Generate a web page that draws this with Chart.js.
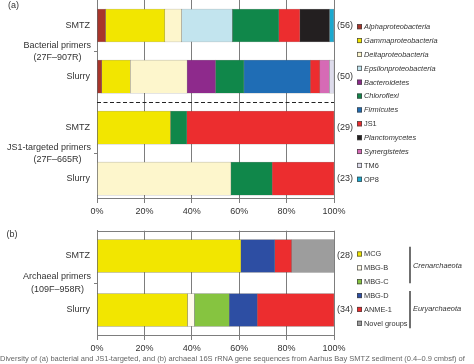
<!DOCTYPE html>
<html><head><meta charset="utf-8">
<script src="https://cdn.jsdelivr.net/npm/chart.js@4/dist/chart.umd.min.js"></script>
<style>
html,body{margin:0;padding:0;background:#fff;width:474px;height:364px;overflow:hidden;position:relative;font-family:'Liberation Sans',Arial,sans-serif}
canvas{position:absolute;left:0}
#ca{top:0}
#cb{top:220px}
#cap{position:absolute;left:0;top:354px;font-size:7.5px;line-height:9px;color:#666;white-space:nowrap}
</style></head><body>
<canvas id="ca" width="474" height="225"></canvas>
<canvas id="cb" width="474" height="142"></canvas>
<div id="cap">Diversity of (a) bacterial and JS1-targeted, and (b) archaeal 16S rRNA gene sequences from Aarhus Bay SMTZ sediment (0.4–0.9 cmbsf) of</div>
<script>
// ---------- Panel (a) data ----------
const rowLabelsA = ['SMTZ', 'Slurry', 'SMTZ', 'Slurry'];
const cloneCountsA = ['(56)', '(50)', '(29)', '(23)'];
const groupLabelsA = [['Bacterial primers', '(27F–907R)'], ['JS1-targeted primers', '(27F–665R)']];
const taxaA = ['Alphaproteobacteria', 'Gammaproteobacteria', 'Deltaproteobacteria', 'Epsilonproteobacteria',
  'Bacteroidetes', 'Chloroflexi', 'Firmicutes', 'JS1', 'Planctomycetes', 'Synergistetes', 'TM6', 'OP8'];
// percent of clones per row: [SMTZ bact, Slurry bact, SMTZ JS1, Slurry JS1]
const alphaproteobacteria   = [3.6, 2.0, 0, 0];
const gammaproteobacteria   = [25.0, 12.0, 31.0, 0];
const deltaproteobacteria   = [7.1, 24.0, 0, 56.5];
const epsilonproteobacteria = [21.4, 0, 0, 0];
const bacteroidetes         = [0, 12.0, 0, 0];
const chloroflexi           = [19.6, 12.0, 6.9, 17.4];
const firmicutes            = [0, 28.0, 0, 0];
const js1                   = [8.9, 4.0, 62.1, 26.1];
const planctomycetes        = [12.5, 0, 0, 0];
const synergistetes         = [0, 4.0, 0, 0];
const tm6                   = [0, 2.0, 0, 0];
const op8                   = [1.8, 0, 0, 0];

// ---------- Panel (b) data ----------
const rowLabelsB = ['SMTZ', 'Slurry'];
const cloneCountsB = ['(28)', '(34)'];
const groupLabelsB = [['Archaeal primers', '(109F–958R)']];
const taxaB = ['MCG', 'MBG-B', 'MBG-C', 'MBG-D', 'ANME-1', 'Novel groups'];
const mcg         = [60.7, 38.2];
const mbgB        = [0, 2.9];
const mbgC        = [0, 14.7];
const mbgD        = [14.3, 11.8];
const anme1       = [7.1, 32.4];
const novelGroups = [17.9, 0];

const xTicks = [0, 20, 40, 60, 80, 100];

// ---------- styles ----------
const seriesA = [alphaproteobacteria, gammaproteobacteria, deltaproteobacteria, epsilonproteobacteria,
  bacteroidetes, chloroflexi, firmicutes, js1, planctomycetes, synergistetes, tm6, op8];
const colorsA = ['#a8352b', '#f2e600', '#fdf6cc', '#c2e4ee', '#8e2a8c', '#10874a', '#1f6db5',
  '#ec2d2f', '#231f20', '#d66ab5', '#dedcec', '#1aa9cf'];
const italicA = [true, true, true, true, true, true, true, false, true, true, false, false];
const seriesB = [mcg, mbgB, mbgC, mbgD, anme1, novelGroups];
const colorsB = ['#f2e600', '#fffbea', '#86c440', '#2d4ea3', '#ec2d2f', '#9d9d9d'];

const FONT = '"Liberation Sans", Arial, sans-serif';
const GRID = '#7d7d7d';
const TXT = '#333';

function makeDatasets(taxa, series, colors) {
  return taxa.map((t, i) => ({
    label: t,
    data: series[i].map((v, r) => ({ x: v, y: r })),
    backgroundColor: colors[i],
    borderColor: 'rgba(60,60,60,0.55)',
    borderWidth: 0.5,
    borderSkipped: false,
    barThickness: 33
  }));
}

function drawLegend(ctx, labels, colors, italics, x, y0, step) {
  ctx.save();
  labels.forEach((lab, i) => {
    const y = y0 + i * step;
    ctx.fillStyle = colors[i];
    ctx.fillRect(x, y - 2.5, 5, 5);
    ctx.strokeStyle = '#444';
    ctx.lineWidth = 0.7;
    ctx.strokeRect(x + 0.35, y - 2.15, 4.3, 4.3);
    ctx.font = (italics[i] ? 'italic ' : '') + '7.4px ' + FONT;
    ctx.fillStyle = TXT;
    ctx.textAlign = 'left';
    ctx.textBaseline = 'middle';
    ctx.fillText(lab, x + 7, y + 0.3);
  });
  ctx.restore();
}

function decorPlugin(cfg) {
  return {
    id: 'decor',
    afterDatasetsDraw(chart) {
      const ctx = chart.ctx, a = chart.chartArea, ys = chart.scales.y;
      ctx.save();
      if (cfg.separators) {
        ctx.strokeStyle = '#222'; ctx.lineWidth = 1; ctx.setLineDash([4, 2.5]);
        cfg.separators.forEach(v => {
          const y = Math.round(ys.getPixelForValue(v)) + 0.5;
          ctx.beginPath(); ctx.moveTo(a.left, y); ctx.lineTo(a.right, y); ctx.stroke();
        });
        ctx.setLineDash([]);
      }
      if (cfg.topBorder) {
        ctx.strokeStyle = GRID; ctx.lineWidth = 1;
        const y = Math.round(a.top) + 0.5;
        ctx.beginPath(); ctx.moveTo(a.left, y); ctx.lineTo(a.right, y); ctx.stroke();
      }
      ctx.restore();
    },
    afterDraw(chart) {
      const ctx = chart.ctx, a = chart.chartArea, ys = chart.scales.y;
      ctx.save();
      ctx.fillStyle = TXT;
      ctx.font = '9px ' + FONT;
      ctx.textBaseline = 'middle';
      // clone counts
      ctx.textAlign = 'left';
      cfg.counts.forEach((c, r) => ctx.fillText(c, a.right + 3, ys.getPixelForValue(r)));
      // group labels with tick marks
      cfg.groups.forEach((g, gi) => {
        const v = cfg.groupPos[gi];
        const y = ys.getPixelForValue(v);
        ctx.strokeStyle = GRID; ctx.lineWidth = 1;
        ctx.beginPath(); ctx.moveTo(a.left - 3, Math.round(y) + 0.5); ctx.lineTo(a.left, Math.round(y) + 0.5); ctx.stroke();
        ctx.textAlign = 'right';
        ctx.fillText(g[0], 91, y - 6);
        ctx.textAlign = 'center';
        ctx.fillText(g[1], 57.5, y + 6.3);
      });
      // panel letter
      ctx.textAlign = 'left';
      ctx.fillText(cfg.panel[0], cfg.panel[1], cfg.panel[2]);
      ctx.restore();
      cfg.legend(ctx);
    }
  };
}

function makeChart(id, taxa, series, colors, rowLabels, yMin, yMax, topPad, plugin) {
  return new Chart(document.getElementById(id), {
    type: 'bar',
    data: { datasets: makeDatasets(taxa, series, colors) },
    options: {
      indexAxis: 'y',
      responsive: false,
      animation: false,
      events: [],
      layout: { padding: { left: 0, right: 140, top: topPad, bottom: 0 } },
      plugins: { legend: { display: false }, tooltip: { enabled: false } },
      scales: {
        x: {
          type: 'linear', stacked: true, min: 0, max: 100, offset: false,
          afterBuildTicks: s => { s.ticks = xTicks.map(v => ({ value: v })); },
          afterFit: s => { s.height = 27; },
          grid: { color: GRID, tickColor: GRID, lineWidth: 1, drawTicks: true, tickLength: 5, offset: false },
          border: { display: true, color: GRID, width: 1 },
          ticks: { color: TXT, font: { family: FONT, size: 9 }, padding: 3, maxRotation: 0,
                   callback: v => v + '%' }
        },
        y: {
          type: 'linear', stacked: true, reverse: true, min: yMin, max: yMax,
          offset: false, bounds: 'data', grace: 0,
          afterBuildTicks: s => { s.ticks = rowLabels.map((_, i) => ({ value: i })); },
          afterFit: s => { s.width = 97; s.paddingTop = 0; s.paddingBottom = 0; },
          grid: { display: false, drawTicks: false, offset: false },
          border: { display: true, color: GRID, width: 1 },
          ticks: { color: TXT, font: { family: FONT, size: 9 }, padding: 7,
                   callback: v => rowLabels[v] }
        }
      }
    },
    plugins: [plugin]
  });
}

makeChart('ca', taxaA, seriesA, colorsA, rowLabelsA, -0.5, 3.38, 0, decorPlugin({
  separators: [1.5],
  topBorder: false,
  counts: cloneCountsA,
  groups: groupLabelsA,
  groupPos: [0.5, 2.5],
  panel: ['(a)', 8, 6],
  legend: ctx => drawLegend(ctx, taxaA, colorsA, italicA, 357, 26.7, 13.87)
}));

makeChart('cb', taxaB, seriesB, colorsB, rowLabelsB, -0.468, 1.463, 10.7, decorPlugin({
  separators: null,
  topBorder: true,
  counts: cloneCountsB,
  groups: groupLabelsB,
  groupPos: [0.5],
  panel: ['(b)', 6.5, 15],
  legend: ctx => {
    drawLegend(ctx, taxaB, colorsB, taxaB.map(() => false), 357, 34, 13.86);
    ctx.save();
    ctx.strokeStyle = '#222'; ctx.lineWidth = 1.3;
    ctx.beginPath(); ctx.moveTo(410, 26.7); ctx.lineTo(410, 63.3); ctx.stroke();
    ctx.beginPath(); ctx.moveTo(410, 71); ctx.lineTo(410, 108.3); ctx.stroke();
    ctx.fillStyle = TXT; ctx.font = 'italic 7.4px ' + FONT;
    ctx.textAlign = 'left'; ctx.textBaseline = 'middle';
    ctx.fillText('Crenarchaeota', 413, 45.7);
    ctx.fillText('Euryarchaeota', 413, 89.3);
    ctx.restore();
  }
}));
</script>
</body></html>
